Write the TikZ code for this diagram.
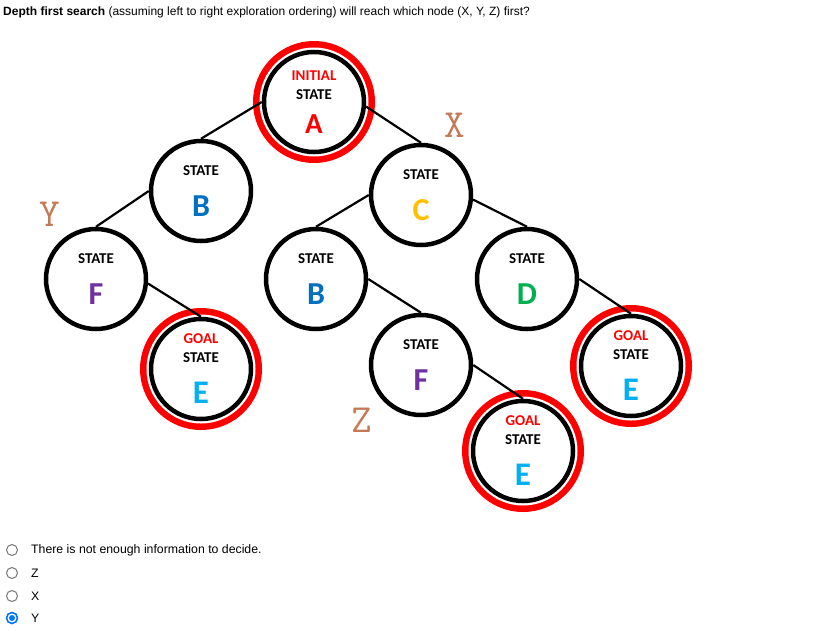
\documentclass[tikz,border=0pt]{standalone}
\usepackage{fontspec}
\setmainfont{Carlito}
\newfontfamily\uifont{Liberation Sans}
\definecolor{markbrown}{RGB}{196,122,86}
\definecolor{letterblue}{RGB}{0,112,192}
\definecolor{lettergold}{RGB}{255,192,0}
\definecolor{lettergreen}{RGB}{0,176,80}
\definecolor{lettercyan}{RGB}{0,176,240}
\definecolor{letterpurple}{RGB}{112,48,160}
\definecolor{radioblue}{RGB}{0,117,255}
\definecolor{radiogray}{RGB}{118,118,118}

\begin{document}
\begin{tikzpicture}[x=1pt,y=-1pt,
    state/.style={circle,draw,line width=4.5pt,fill=white,minimum size=100pt,inner sep=0pt,
        align=center,font=\fontsize{15}{19}\selectfont\bfseries},
    goal/.style={state,preaction={draw=red,line width=22pt},preaction={draw=white,line width=9pt}},
    edge/.style={line width=2.2pt},
    markletter/.style={text=markbrown,inner sep=0pt,font=\ttfamily\fontsize{40}{40}\selectfont},
    radio/.style={circle,draw=radiogray,line width=1pt,minimum size=11pt,inner sep=0pt},
    optiontext/.style={anchor=west,inner sep=0pt,font=\uifont\fontsize{12.3}{14}\selectfont}]
    \useasboundingbox (0,0) rectangle (834,632);

    \node[anchor=west,inner sep=0pt,font=\uifont\fontsize{12}{14}\selectfont] (title) at (3,12)
        {\textbf{Depth first search} (assuming left to right exploration ordering) will reach which node (X, Y, Z) first?};

    % tree
    \node[goal] (a) at (314,102)
        {\textcolor{red}{INITIAL}\\STATE\\[15.5pt]{\fontsize{29}{30}\selectfont\color{red}A}};
    \foreach \n/\x/\y/\c/\l in {b1/201/191/letterblue/B, c/421/195/lettergold/C,
        f1/96/279/letterpurple/F, b2/316/279/letterblue/B, d/527/279/lettergreen/D,
        f2/421/365/letterpurple/F} {
        \node[state] (\n) at (\x,\y) {STATE\\[19.5pt]{\fontsize{32}{32}\selectfont\color{\c}\l}};
    }
    \foreach \n/\x/\y in {e1/201/369, e2/523/451, e3/631/366} {
        \node[goal] (\n) at (\x,\y)
            {\textcolor{red}{GOAL}\\STATE\\[18.5pt]{\fontsize{33}{33}\selectfont\color{lettercyan}E}};
    }

    \draw[edge] (a.west) -- (b1.north);
    \draw[edge] (a.-5) -- (c.north);
    \draw[edge] (b1.west) -- (f1.north);
    \draw[edge] (c.west) -- (b2.north);
    \draw[edge] (c.-5) -- (d.north);
    \draw[edge] (f1.-5) -- (e1.north);
    \draw[edge] (b2.east) -- (f2.north);
    \draw[edge] (f2.east) -- (e2.north);
    \draw[edge] (d.east) -- (e3.north);

    \node[markletter] (x) at (455,125) {X};
    \node[markletter] (y) at (50,214) {Y};
    \node[markletter] (z) at (362,420) {Z};

    % answers
    \foreach \i/\y/\t in {1/550/There is not enough information to decide., 2/573/Z, 3/596/X, 4/618/Y} {
        \node[radio] (r\i) at (12,\y) {};
        \node[optiontext] (t\i) at (31,\y) {\t};
    }
    \node[radio,draw=radioblue,line width=1.5pt] (sel) at (r4) {};
    \fill[radioblue] (sel) circle (3pt);
\end{tikzpicture}
\end{document}
